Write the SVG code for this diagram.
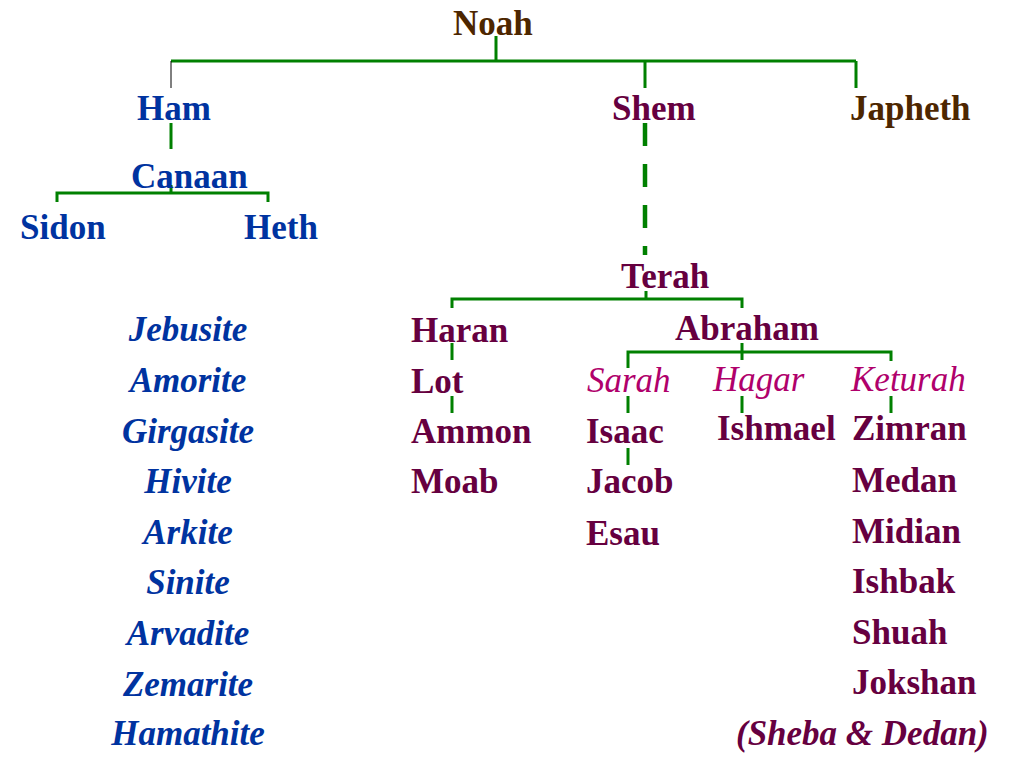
<svg xmlns="http://www.w3.org/2000/svg" width="1017" height="762" viewBox="0 0 1017 762">
<style>
text{font-family:"Liberation Serif","Times New Roman",serif;font-size:35px;font-weight:bold}
.br{fill:#4d2600}
.bl{fill:#0033a0;}
.ma{fill:#660040}
.wf{fill:#b0006b;font-weight:normal;font-style:italic}
.it{font-style:italic}
.ln{stroke:#008000;stroke-width:3;fill:none}
.dash{stroke-width:4.5;stroke-dasharray:23 18}
</style>
<rect width="1017" height="762" fill="#fff"/>
<g id="connectors">
<path class="ln" d="M496 36V61M171 61H856M645 61V88M856 61V88"/>
<path d="M171 61V88" stroke="#000" stroke-width="1" fill="none"/>
<path class="ln" d="M171 123V149"/>
<path class="ln" d="M171 185V193M57 202V193H268V202"/>
<path class="ln dash" d="M645 123V255"/>
<path class="ln" d="M646 291V299M452 308V299H742V308"/>
<path class="ln" d="M452 343V360M452 396V413"/>
<path class="ln" d="M742 343V360M628 368V352H891V361"/>
<path class="ln" d="M628 396V413M628 448V465M742 396V413M891 396V413"/>
</g>
<g id="noah"><text class="br" x="453" y="35">Noah</text></g>
<g id="ham"><text class="bl" x="137" y="120">Ham</text></g>
<g id="shem"><text class="ma" x="612" y="120">Shem</text></g>
<g id="japheth"><text class="br" x="850" y="120">Japheth</text></g>
<g id="canaan"><text class="bl" x="131" y="188">Canaan</text></g>
<g id="sidon"><text class="bl" x="20" y="239">Sidon</text></g>
<g id="heth"><text class="bl" x="244" y="239">Heth</text></g>
<g id="canaanites">
<text class="bl it" x="188" y="341" text-anchor="middle">Jebusite</text>
<text class="bl it" x="188" y="392" text-anchor="middle">Amorite</text>
<text class="bl it" x="188" y="443" text-anchor="middle">Girgasite</text>
<text class="bl it" x="188" y="493" text-anchor="middle">Hivite</text>
<text class="bl it" x="188" y="544" text-anchor="middle">Arkite</text>
<text class="bl it" x="188" y="594" text-anchor="middle">Sinite</text>
<text class="bl it" x="188" y="645" text-anchor="middle">Arvadite</text>
<text class="bl it" x="188" y="696" text-anchor="middle">Zemarite</text>
<text class="bl it" x="188" y="745" text-anchor="middle">Hamathite</text>
</g>
<g id="terah"><text class="ma" x="621" y="288">Terah</text></g>
<g id="haran"><text class="ma" x="411" y="342">Haran</text></g>
<g id="lot"><text class="ma" x="411" y="393">Lot</text></g>
<g id="ammon"><text class="ma" x="411" y="443">Ammon</text></g>
<g id="moab"><text class="ma" x="411" y="493">Moab</text></g>
<g id="abraham"><text class="ma" x="675" y="340">Abraham</text></g>
<g id="sarah"><text class="wf" x="587" y="392">Sarah</text></g>
<g id="hagar"><text class="wf" x="713" y="391">Hagar</text></g>
<g id="keturah"><text class="wf" x="851" y="391">Keturah</text></g>
<g id="isaac"><text class="ma" x="586" y="443">Isaac</text></g>
<g id="jacob"><text class="ma" x="586" y="493">Jacob</text></g>
<g id="esau"><text class="ma" x="586" y="545">Esau</text></g>
<g id="ishmael"><text class="ma" x="717" y="440">Ishmael</text></g>
<g id="zimran"><text class="ma" x="852" y="440">Zimran</text></g>
<g id="medan"><text class="ma" x="852" y="492">Medan</text></g>
<g id="midian"><text class="ma" x="852" y="543">Midian</text></g>
<g id="ishbak"><text class="ma" x="852" y="593">Ishbak</text></g>
<g id="shuah"><text class="ma" x="852" y="644">Shuah</text></g>
<g id="jokshan"><text class="ma" x="852" y="694">Jokshan</text></g>
<g id="sheba-dedan"><text class="ma it" x="736" y="745">(Sheba &amp; Dedan)</text></g>
</svg>
